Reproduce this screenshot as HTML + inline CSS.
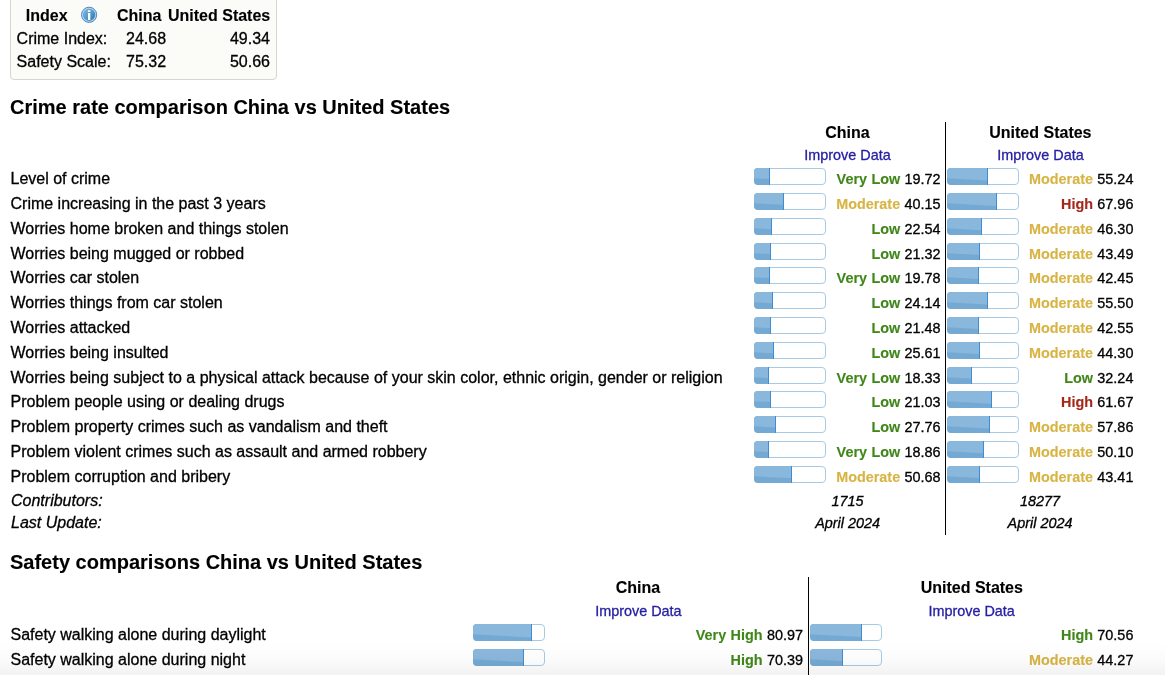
<!DOCTYPE html>
<html><head><meta charset="utf-8"><title>Crime Comparison Between China And United States</title>
<style>
html,body{margin:0;padding:0;background:#fff;}
body{width:1165px;height:675px;overflow:hidden;position:relative;font-family:"Liberation Sans",Arial,Helvetica,sans-serif;font-size:16px;color:#000;-webkit-text-stroke-width:0.3px;}
.abs{position:absolute;white-space:nowrap;}
.box{position:absolute;left:10px;top:-4px;width:265px;height:82px;background:#fbfbf7;border:1px solid #d6d6ce;border-radius:4px;}
h2{position:absolute;margin:0;font-size:20px;font-weight:bold;left:10px;white-space:nowrap;line-height:24px;}
.lbl{position:absolute;left:10.5px;white-space:nowrap;line-height:20px;height:20px;}
.val{position:absolute;white-space:nowrap;line-height:20px;height:20px;text-align:right;font-size:14.4px;word-spacing:0.4px;}
.val b{font-weight:bold;}
h2,.hd,.val b{-webkit-text-stroke-width:0.12px;}
.g{color:#40871a}.m{color:#d8b445}.h{color:#a5281b}
.bar{position:absolute;width:70px;height:15px;border:1px solid #a8cae5;border-radius:4px;background:#fff;}
.fill{position:absolute;left:-1px;top:-1px;height:17px;background:#74a9d3;border-right:1px solid #3f8cd6;box-sizing:content-box;border-radius:4px 0 0 4px;overflow:hidden;}
.fill::before{content:"";position:absolute;left:0;top:0;width:72px;height:100%;background:#8ab7dc;clip-path:polygon(0 0,100% 0,100% 84%,0 60%);}
.hd{position:absolute;font-weight:bold;text-align:center;width:200px;line-height:20px;white-space:nowrap;}
.lk{position:absolute;color:#2620a3;font-size:14.4px;text-align:center;width:200px;line-height:20px;white-space:nowrap;}
.it{position:absolute;font-style:italic;line-height:20px;white-space:nowrap;}
.vline{position:absolute;width:1px;background:#000;}
.shadow{position:absolute;left:0;top:641px;width:1165px;height:34px;background:linear-gradient(rgba(0,0,0,0) 0%,rgba(0,0,0,0.006) 30%,rgba(0,0,0,0.02) 60%,rgba(0,0,0,0.05) 100%);}
</style></head><body>

<div class="box"></div>
<div class="abs" style="left:25.8px;top:6px;font-weight:bold;line-height:20px;-webkit-text-stroke-width:0.12px">Index</div>
<svg class="abs" style="left:80px;top:5.6px" width="18" height="18" viewBox="0 0 18 18"><defs><linearGradient id="ig" x1="0" y1="0" x2="1" y2="1"><stop offset="0" stop-color="#7db9e0"/><stop offset="0.5" stop-color="#559acd"/><stop offset="1" stop-color="#2f72b0"/></linearGradient></defs><circle cx="9.1" cy="8.8" r="7.6" fill="#a9d6ef" stroke="#4a79b9" stroke-width="0.9"/><circle cx="9.1" cy="8.8" r="6.1" fill="url(#ig)"/><rect x="7.8" y="4.2" width="2.7" height="1.7" rx="0.5" fill="#fff"/><rect x="8" y="7" width="2.3" height="7" fill="#fff"/></svg>
<div class="abs" style="left:117px;top:6px;font-weight:bold;line-height:20px;-webkit-text-stroke-width:0.12px">China</div>
<div class="abs" style="left:168px;top:6px;font-weight:bold;line-height:20px;-webkit-text-stroke-width:0.12px">United States</div>
<div class="abs" style="left:16.6px;top:29.3px;line-height:20px">Crime Index:</div>
<div class="abs" style="left:126px;top:29.3px;line-height:20px">24.68</div>
<div class="abs" style="left:170px;width:100px;text-align:right;top:29.3px;line-height:20px">49.34</div>
<div class="abs" style="left:16.6px;top:52px;line-height:20px">Safety Scale:</div>
<div class="abs" style="left:126px;top:52px;line-height:20px">75.32</div>
<div class="abs" style="left:170px;width:100px;text-align:right;top:52px;line-height:20px">50.66</div>
<h2 style="top:95px">Crime rate comparison China vs United States</h2>
<div class="hd" style="left:747.4px;top:123px">China</div>
<div class="hd" style="left:940.4px;top:123px">United States</div>
<div class="lk" style="left:747.5px;top:145px">Improve Data</div>
<div class="lk" style="left:940.5px;top:145px">Improve Data</div>
<div class="vline" style="left:945px;top:122px;height:413px"></div>
<div class="lbl" style="top:169.00px">Level of crime</div>
<div class="bar" style="left:754px;top:168px"><div class="fill" style="width:15px"></div></div>
<div class="val" style="left:740.6px;width:200px;top:169.00px"><b class="g">Very Low</b> 19.72</div>
<div class="bar" style="left:947px;top:168px"><div class="fill" style="width:40px"></div></div>
<div class="val" style="left:933.4px;width:200px;top:169.00px"><b class="m">Moderate</b> 55.24</div>
<div class="lbl" style="top:194.00px">Crime increasing in the past 3 years</div>
<div class="bar" style="left:754px;top:193px"><div class="fill" style="width:29px"></div></div>
<div class="val" style="left:740.6px;width:200px;top:194.00px"><b class="m">Moderate</b> 40.15</div>
<div class="bar" style="left:947px;top:193px"><div class="fill" style="width:49px"></div></div>
<div class="val" style="left:933.4px;width:200px;top:194.00px"><b class="h">High</b> 67.96</div>
<div class="lbl" style="top:219.00px">Worries home broken and things stolen</div>
<div class="bar" style="left:754px;top:218px"><div class="fill" style="width:17px"></div></div>
<div class="val" style="left:740.6px;width:200px;top:219.00px"><b class="g">Low</b> 22.54</div>
<div class="bar" style="left:947px;top:218px"><div class="fill" style="width:34px"></div></div>
<div class="val" style="left:933.4px;width:200px;top:219.00px"><b class="m">Moderate</b> 46.30</div>
<div class="lbl" style="top:244.00px">Worries being mugged or robbed</div>
<div class="bar" style="left:754px;top:243px"><div class="fill" style="width:16px"></div></div>
<div class="val" style="left:740.6px;width:200px;top:244.00px"><b class="g">Low</b> 21.32</div>
<div class="bar" style="left:947px;top:243px"><div class="fill" style="width:32px"></div></div>
<div class="val" style="left:933.4px;width:200px;top:244.00px"><b class="m">Moderate</b> 43.49</div>
<div class="lbl" style="top:268.00px">Worries car stolen</div>
<div class="bar" style="left:754px;top:267px"><div class="fill" style="width:15px"></div></div>
<div class="val" style="left:740.6px;width:200px;top:268.00px"><b class="g">Very Low</b> 19.78</div>
<div class="bar" style="left:947px;top:267px"><div class="fill" style="width:31px"></div></div>
<div class="val" style="left:933.4px;width:200px;top:268.00px"><b class="m">Moderate</b> 42.45</div>
<div class="lbl" style="top:293.00px">Worries things from car stolen</div>
<div class="bar" style="left:754px;top:292px"><div class="fill" style="width:18px"></div></div>
<div class="val" style="left:740.6px;width:200px;top:293.00px"><b class="g">Low</b> 24.14</div>
<div class="bar" style="left:947px;top:292px"><div class="fill" style="width:40px"></div></div>
<div class="val" style="left:933.4px;width:200px;top:293.00px"><b class="m">Moderate</b> 55.50</div>
<div class="lbl" style="top:318.00px">Worries attacked</div>
<div class="bar" style="left:754px;top:317px"><div class="fill" style="width:16px"></div></div>
<div class="val" style="left:740.6px;width:200px;top:318.00px"><b class="g">Low</b> 21.48</div>
<div class="bar" style="left:947px;top:317px"><div class="fill" style="width:31px"></div></div>
<div class="val" style="left:933.4px;width:200px;top:318.00px"><b class="m">Moderate</b> 42.55</div>
<div class="lbl" style="top:343.00px">Worries being insulted</div>
<div class="bar" style="left:754px;top:342px"><div class="fill" style="width:19px"></div></div>
<div class="val" style="left:740.6px;width:200px;top:343.00px"><b class="g">Low</b> 25.61</div>
<div class="bar" style="left:947px;top:342px"><div class="fill" style="width:32px"></div></div>
<div class="val" style="left:933.4px;width:200px;top:343.00px"><b class="m">Moderate</b> 44.30</div>
<div class="lbl" style="top:368.00px">Worries being subject to a physical attack because of your skin color, ethnic origin, gender or religion</div>
<div class="bar" style="left:754px;top:367px"><div class="fill" style="width:14px"></div></div>
<div class="val" style="left:740.6px;width:200px;top:368.00px"><b class="g">Very Low</b> 18.33</div>
<div class="bar" style="left:947px;top:367px"><div class="fill" style="width:24px"></div></div>
<div class="val" style="left:933.4px;width:200px;top:368.00px"><b class="g">Low</b> 32.24</div>
<div class="lbl" style="top:392.00px">Problem people using or dealing drugs</div>
<div class="bar" style="left:754px;top:391px"><div class="fill" style="width:16px"></div></div>
<div class="val" style="left:740.6px;width:200px;top:392.00px"><b class="g">Low</b> 21.03</div>
<div class="bar" style="left:947px;top:391px"><div class="fill" style="width:44px"></div></div>
<div class="val" style="left:933.4px;width:200px;top:392.00px"><b class="h">High</b> 61.67</div>
<div class="lbl" style="top:417.00px">Problem property crimes such as vandalism and theft</div>
<div class="bar" style="left:754px;top:416px"><div class="fill" style="width:21px"></div></div>
<div class="val" style="left:740.6px;width:200px;top:417.00px"><b class="g">Low</b> 27.76</div>
<div class="bar" style="left:947px;top:416px"><div class="fill" style="width:42px"></div></div>
<div class="val" style="left:933.4px;width:200px;top:417.00px"><b class="m">Moderate</b> 57.86</div>
<div class="lbl" style="top:442.00px">Problem violent crimes such as assault and armed robbery</div>
<div class="bar" style="left:754px;top:441px"><div class="fill" style="width:14px"></div></div>
<div class="val" style="left:740.6px;width:200px;top:442.00px"><b class="g">Very Low</b> 18.86</div>
<div class="bar" style="left:947px;top:441px"><div class="fill" style="width:36px"></div></div>
<div class="val" style="left:933.4px;width:200px;top:442.00px"><b class="m">Moderate</b> 50.10</div>
<div class="lbl" style="top:467.00px">Problem corruption and bribery</div>
<div class="bar" style="left:754px;top:466px"><div class="fill" style="width:37px"></div></div>
<div class="val" style="left:740.6px;width:200px;top:467.00px"><b class="m">Moderate</b> 50.68</div>
<div class="bar" style="left:947px;top:466px"><div class="fill" style="width:32px"></div></div>
<div class="val" style="left:933.4px;width:200px;top:467.00px"><b class="m">Moderate</b> 43.41</div>
<div class="it" style="left:11px;top:491px">Contributors:</div>
<div class="it" style="left:11px;top:513px">Last Update:</div>
<div class="it" style="left:747.6px;width:200px;text-align:center;top:491px;font-size:14.4px">1715</div>
<div class="it" style="left:940px;width:200px;text-align:center;top:491px;font-size:14.4px">18277</div>
<div class="it" style="left:747.6px;width:200px;text-align:center;top:513px;font-size:14.4px">April 2024</div>
<div class="it" style="left:940px;width:200px;text-align:center;top:513px;font-size:14.4px">April 2024</div>
<h2 style="top:550px">Safety comparisons China vs United States</h2>
<div class="hd" style="left:538px;top:578px">China</div>
<div class="hd" style="left:871.8px;top:578px">United States</div>
<div class="lk" style="left:538.4px;top:601px">Improve Data</div>
<div class="lk" style="left:871.7px;top:601px">Improve Data</div>
<div class="vline" style="left:808px;top:577px;height:100px"></div>
<div class="lbl" style="top:625.00px">Safety walking alone during daylight</div>
<div class="bar" style="left:473px;top:624px"><div class="fill" style="width:58px"></div></div>
<div class="val" style="left:603px;width:200px;top:625.00px"><b class="g">Very High</b> 80.97</div>
<div class="bar" style="left:810px;top:624px"><div class="fill" style="width:51px"></div></div>
<div class="val" style="left:933.4px;width:200px;top:625.00px"><b class="g">High</b> 70.56</div>
<div class="lbl" style="top:650.00px">Safety walking alone during night</div>
<div class="bar" style="left:473px;top:649px"><div class="fill" style="width:50px"></div></div>
<div class="val" style="left:603px;width:200px;top:650.00px"><b class="g">High</b> 70.39</div>
<div class="bar" style="left:810px;top:649px"><div class="fill" style="width:32px"></div></div>
<div class="val" style="left:933.4px;width:200px;top:650.00px"><b class="m">Moderate</b> 44.27</div>
<div class="shadow"></div>
</body></html>
